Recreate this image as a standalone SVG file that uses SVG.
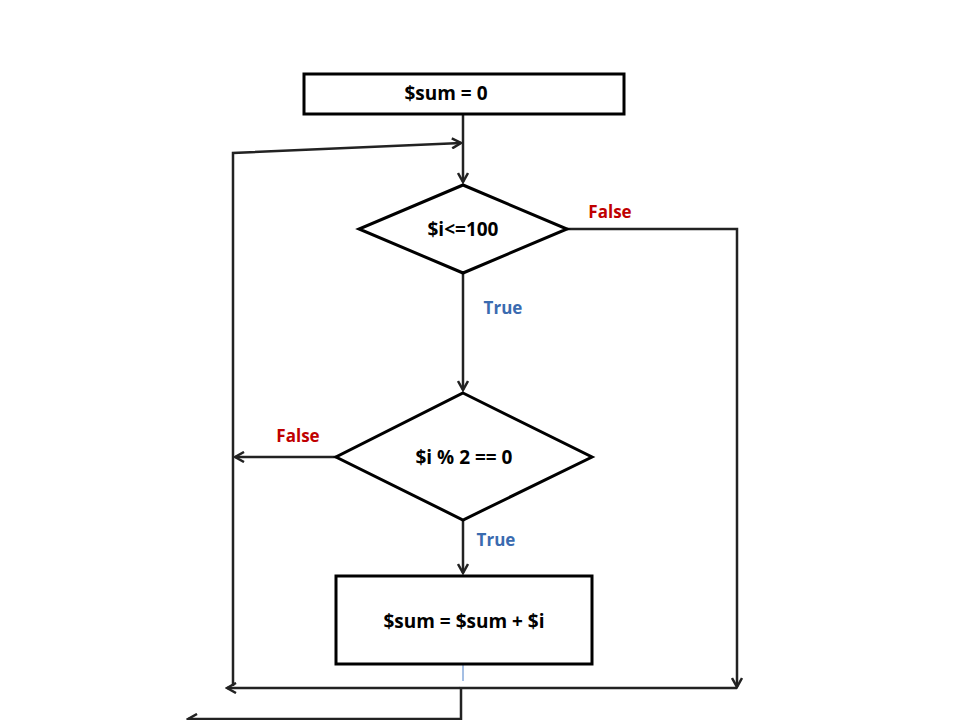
<svg xmlns="http://www.w3.org/2000/svg" width="960" height="720" viewBox="0 0 960 720">
<style>
.n{fill:#fff;stroke:#000;stroke-width:3}
.c{fill:none;stroke:#222;stroke-width:2.5}
.t{font-family:"Open Sans","Liberation Sans",sans-serif;font-weight:bold;font-size:19px;text-anchor:middle}
.f{fill:#c00000;font-size:17px}
.u{fill:#3a6bb0;font-size:17px}
</style>
<defs><marker id="a" markerWidth="12" markerHeight="12" refX="10" refY="6" orient="auto" markerUnits="userSpaceOnUse"><path d="M1,1 L10,6 L1,11" fill="none" stroke="#222" stroke-width="2.5"/></marker></defs>
<g id="connectors">
<path class="c" d="M463,114 V182" marker-end="url(#a)"/>
<path class="c" d="M233,686 V153 L461,143" marker-end="url(#a)"/>
<path class="c" d="M463,274 V390" marker-end="url(#a)"/>
<path class="c" d="M567,229 H737 V687" marker-end="url(#a)"/>
<path class="c" d="M336,457 H235" marker-end="url(#a)"/>
<path class="c" d="M463,520 V573" marker-end="url(#a)"/>
<path class="c" d="M460,688 H227" marker-end="url(#a)"/>
<path class="c" d="M737,688 H461 V719 H188" marker-end="url(#a)"/>
<path d="M463,665 V681" stroke="#4a7fc8" stroke-width="1"/>
</g>
<g id="n1"><rect class="n" x="304" y="74" width="320" height="40"/><text class="t" x="446" y="100">$sum = 0</text></g>
<g id="n2"><path class="n" d="M463,185 L567,229 L463,273 L359,229 Z"/><text class="t" x="463" y="236">$i&lt;=100</text></g>
<g id="n3"><path class="n" d="M463,393 L592,457 L463,520 L336,457 Z"/><text class="t" x="464" y="464">$i % 2 == 0</text></g>
<g id="n4"><rect class="n" x="336" y="576" width="256" height="88"/><text class="t" x="464" y="628">$sum = $sum + $i</text></g>
<g id="labels">
<text class="t f" x="610" y="218">False</text>
<text class="t f" x="298" y="442">False</text>
<text class="t u" x="503" y="314">True</text>
<text class="t u" x="496" y="546">True</text>
</g>
</svg>
